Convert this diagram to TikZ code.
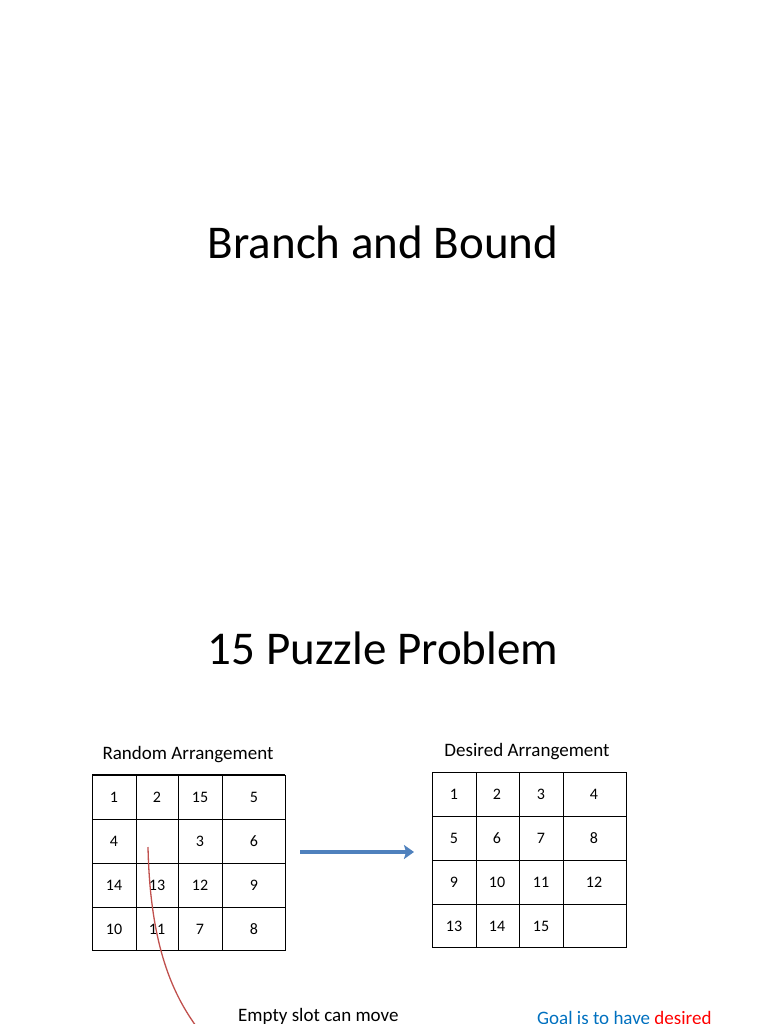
\documentclass[tikz,border=0pt]{standalone}
\usepackage{fontspec}
\usetikzlibrary{arrows.meta}
\setmainfont{Carlito}
\begin{document}
\begin{tikzpicture}[x=1pt,y=-1pt,
  cellnum/.style={font=\fontsize{16}{16}\selectfont, inner sep=0pt},
  lbl/.style={font=\fontsize{19}{19}\selectfont, inner sep=0pt},
  ttl/.style={font=\fontsize{47}{47}\selectfont, inner sep=0pt}]
\path[use as bounding box] (0,0) rectangle (768,1024);
\clip (0,0) rectangle (768,1024);
\node[ttl] (t1) at (383,242) {Branch and Bound};
\node[ttl] (t2) at (383,648) {15 Puzzle Problem};
\node[lbl] (lr) at (188,755) {Random Arrangement};
\node[lbl] (ld) at (527,752) {Desired Arrangement};
% left grid
\draw[line width=0.8pt] (92,775) rectangle (285,950);
\foreach \x in {136,178,222} \draw[line width=0.8pt] (\x,775) -- (\x,950);
\foreach \y in {819,863,907} \draw[line width=0.8pt] (92,\y) -- (285,\y);
\draw[line width=1.6pt] (92,775) -- (285,775);
% right grid
\draw[line width=0.8pt] (432,772) rectangle (626,947);
\foreach \x in {476,519,563} \draw[line width=0.8pt] (\x,772) -- (\x,947);
\foreach \y in {816,860,904} \draw[line width=0.8pt] (432,\y) -- (626,\y);
% numbers
\foreach \n [count=\i from 0] in {1,2,15,5,4,,3,6,14,13,12,9,10,11,7,8}{
  \pgfmathtruncatemacro\c{mod(\i,4)}
  \pgfmathtruncatemacro\r{div(\i,4)}
  \pgfmathsetmacro\xx{{114,157,200,254}[\c]}
  \node[cellnum] (l\i) at (\xx,{797+44*\r}) {\n};
}
\foreach \n [count=\i from 0] in {1,2,3,4,5,6,7,8,9,10,11,12,13,14,15,}{
  \pgfmathtruncatemacro\c{mod(\i,4)}
  \pgfmathtruncatemacro\r{div(\i,4)}
  \pgfmathsetmacro\xx{{454,497,541,594}[\c]}
  \node[cellnum] (r\i) at (\xx,{794+44*\r}) {\n};
}
\coordinate (a1) at (300,852);
\coordinate (a2) at (414,852);
\draw[line width=3.5pt, color={rgb,255:red,79;green,129;blue,189}, -{Stealth[length=10pt,width=14pt,inset=2pt]}] (a1) -- (a2);
\coordinate (c1) at (148,847);
\coordinate (c2) at (196,1026);
\draw[line width=1.3pt, color={rgb,255:red,192;green,80;blue,77}] (c1) .. controls (150,940) and (170,990) .. (c2);
\node[lbl, anchor=base west] (e) at (238,1021) {Empty slot can move};
\node[lbl, anchor=base west] (g) at (537,1024) {\textcolor[rgb]{0.0,0.44,0.75}{Goal is to have} \textcolor{red}{desired}};
\end{tikzpicture}
\end{document}
